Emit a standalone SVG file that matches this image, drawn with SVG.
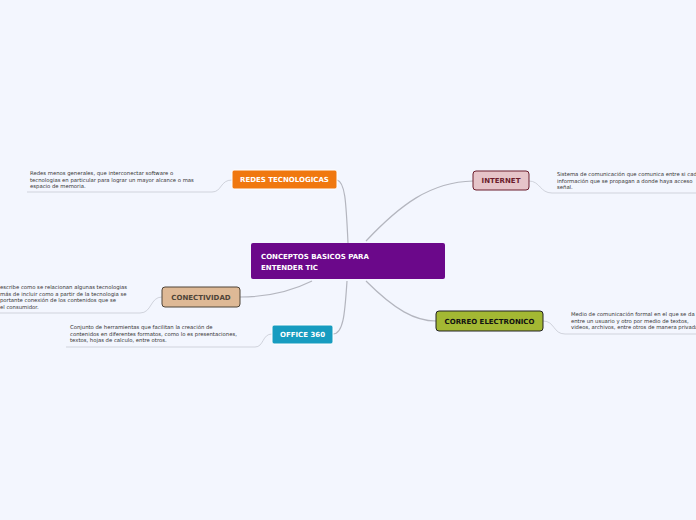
<svg xmlns="http://www.w3.org/2000/svg" width="696" height="520" viewBox="0 0 696 520">
<style>
.n{font-family:"DejaVu Sans",Verdana,sans-serif;font-weight:bold;font-size:7px}
.t{font-family:"DejaVu Sans",Verdana,sans-serif;font-size:5.3px;fill:#333}
.c{fill:none;stroke:#b4b6bf;stroke-width:1.2}
.u{fill:none;stroke:#d0d3dc;stroke-width:1}
</style>
<rect width="696" height="520" fill="#f3f6fe"/>
<g id="connectors">
<path class="c" d="M348,243 C346,200 345,182 337,180"/>
<path class="c" d="M366,241 C400,205 430,182 473,181"/>
<path class="c" d="M366,281 C395,310 415,321 436,321"/>
<path class="c" d="M312,281 C290,292 265,297 240,297"/>
<path class="c" d="M347,281 C345,310 344,334 333,334"/>
<path class="u" d="M27,192 H212 C222,192 220,180 232,180"/>
<path class="u" d="M529,181 C540,181 540,193 552,193 H696"/>
<path class="u" d="M0,313 H140 C152,313 150,297 162,297"/>
<path class="u" d="M66,347 H255 C264,347 262,334 272,334"/>
<path class="u" d="M543,321 C555,321 553,334 565,334 H696"/>
</g>
<g id="center">
<rect x="251" y="243" width="194" height="36" rx="2" fill="#6b088a"/>
<text class="n" x="261" y="259" fill="#fff" font-size="8.2">CONCEPTOS BASICOS PARA</text>
<text class="n" x="261" y="270" fill="#fff" font-size="8.2">ENTENDER TIC</text>
</g>
<g id="redes">
<rect x="232" y="170" width="105" height="19" rx="2" fill="#f0780f" stroke="#fff"/>
<text class="n" x="284.5" y="182" fill="#fff" text-anchor="middle">REDES TECNOLOGICAS</text>
<text class="t" x="30" y="175">Redes menos generales, que interconectar software o</text>
<text class="t" x="30" y="181.5">tecnologias en particular para lograr un mayor alcance o mas</text>
<text class="t" x="30" y="188">espacio de memoria.</text>
</g>
<g id="internet">
<rect x="473" y="171" width="56" height="19" rx="3" fill="#e6c4c9" stroke="#6b1c2c"/>
<text class="n" x="501" y="183" fill="#6b1c2c" text-anchor="middle">INTERNET</text>
<text class="t" x="557" y="176">Sistema de comunicación que comunica entre si cada</text>
<text class="t" x="557" y="182.5">información que se propagan a donde haya acceso</text>
<text class="t" x="557" y="189">señal.</text>
</g>
<g id="conectividad">
<rect x="162" y="287" width="78" height="20" rx="3" fill="#deb996" stroke="#4e4438"/>
<text class="n" x="201" y="300" fill="#4e4438" text-anchor="middle">CONECTIVIDAD</text>
<text class="t" x="0" y="289">escribe como se relacionan algunas tecnologias</text>
<text class="t" x="0" y="295.5">más de incluir como a partir de la tecnologia se</text>
<text class="t" x="0" y="302">portante conexión de los contenidos que se</text>
<text class="t" x="0" y="308.5">el consumidor.</text>
</g>
<g id="office">
<rect x="272" y="325" width="61" height="19" rx="2" fill="#179cc0" stroke="#fff"/>
<text class="n" x="302.5" y="337" fill="#fff" text-anchor="middle">OFFICE 360</text>
<text class="t" x="70" y="329">Conjunto de herramientas que facilitan la creación de</text>
<text class="t" x="70" y="335.5">contenidos en diferentes formatos, como lo es presentaciones,</text>
<text class="t" x="70" y="342">textos, hojas de calculo, entre otros.</text>
</g>
<g id="correo">
<rect x="436" y="311" width="107" height="20" rx="3" fill="#a3b833" stroke="#222"/>
<text class="n" x="489.5" y="324" fill="#111" text-anchor="middle">CORREO ELECTRONICO</text>
<text class="t" x="571" y="316">Medio de comunicación formal en el que se da</text>
<text class="t" x="571" y="322.5">entre un usuario y otro por medio de textos,</text>
<text class="t" x="571" y="329">videos, archivos, entre otros de manera privada</text>
</g>
</svg>
